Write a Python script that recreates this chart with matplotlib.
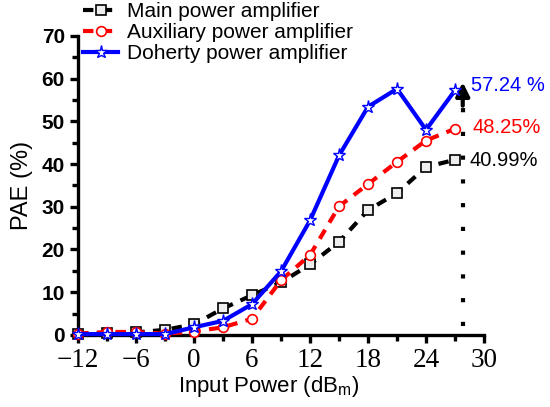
import matplotlib
matplotlib.use("Agg")
import matplotlib.pyplot as plt
from matplotlib.ticker import MultipleLocator

plt.rcParams['font.family'] = ['Liberation Sans', 'DejaVu Sans']
plt.rcParams['mathtext.default'] = 'regular'

# Daten
input_power = [-12, -9, -6, -3, 0, 3, 6, 9, 12, 15, 18, 21, 24, 27]
pae_main = [0.3, 0.5, 0.6, 1.2, 2.5, 6.2, 9.3, 12.3, 16.5, 21.8, 29.2, 33.2, 39.3, 40.99]
pae_aux = [0.3, 0.7, 0.7, 0.3, 0.8, 1.8, 3.8, 12.8, 18.7, 30.1, 35.3, 40.5, 45.5, 48.25]
pae_doherty = [0.2, 0.2, 0.2, 0.2, 1.8, 3.3, 7.2, 14.9, 26.8, 42.0, 53.4, 57.6, 48.0, 57.24]

labels = ['Main power amplifier', 'Auxiliary power amplifier', 'Doherty power amplifier']
peak_texts = ['57.24 %', '48.25%', '40.99%']

fig = plt.figure(figsize=(5.5, 4.07), dpi=100)
ax = fig.add_axes([0.142, 0.177, 0.738, 0.735])

ax.plot(input_power, pae_main, color='black', lw=3, linestyle=(0, (2.5, 2)),
        marker='s', markersize=6.5, markerfacecolor='#eeeeee', markeredgecolor='black',
        markeredgewidth=1.2, label=labels[0], clip_on=False, zorder=3)
ax.plot(input_power, pae_aux, color='red', lw=3, linestyle=(0, (2.5, 2)),
        marker='o', markersize=7, markerfacecolor='white', markeredgecolor='red',
        markeredgewidth=1.2, label=labels[1], clip_on=False, zorder=3)
ax.plot(input_power, pae_doherty, color='blue', lw=3, linestyle='-',
        marker='*', markersize=9.5, markerfacecolor='white', markeredgecolor='blue',
        markeredgewidth=1.0, label=labels[2], clip_on=False, zorder=4)

# gepunkteter Pfeil bei ~28 dBm
ax.plot([27.8, 27.8], [2, 53], color='black', lw=3, linestyle=(0, (1, 4.7)), zorder=2)
ax.annotate('', xy=(27.8, 59.8), xytext=(27.8, 53),
            arrowprops=dict(arrowstyle='-|>', color='black', lw=3, mutation_scale=20))

ax.text(28.7, 58.4, peak_texts[0], color='blue', fontsize=14.5, va='center', ha='left')
ax.text(28.8, 48.6, peak_texts[1], color='red', fontsize=14.5, va='center', ha='left')
ax.text(28.5, 40.9, peak_texts[2], color='black', fontsize=14.5, va='center', ha='left')

ax.set_xlim(-12, 30)
ax.set_ylim(0, 70)
ax.xaxis.set_major_locator(MultipleLocator(6))
ax.xaxis.set_minor_locator(MultipleLocator(3))
ax.yaxis.set_major_locator(MultipleLocator(10))
ax.yaxis.set_minor_locator(MultipleLocator(5))

for s in ['top', 'right']:
    ax.spines[s].set_visible(False)
for s in ['left', 'bottom']:
    ax.spines[s].set_linewidth(2.4)

ax.tick_params(which='major', direction='out', length=6, width=2.4)
ax.tick_params(which='minor', direction='out', length=4, width=2.4)

for lab in ax.get_xticklabels():
    lab.set_fontfamily('Liberation Serif')
    lab.set_fontsize(19.5)
for lab in ax.get_yticklabels():
    lab.set_fontsize(15)
    lab.set_fontweight('bold')

ax.set_xlabel('Input Power (dB$_m$)', fontsize=16, labelpad=-1)
ax.xaxis.set_label_coords(0.47, -0.13)
ax.set_ylabel('PAE (%)', fontsize=17, labelpad=6)

fig.legend(loc='upper left', bbox_to_anchor=(0.151, 0.995), frameon=False, fontsize=15,
           handlelength=1.7, handletextpad=0.4, labelspacing=0.1, borderpad=0,
           borderaxespad=0)

fig.savefig('out.png', dpi=100)
